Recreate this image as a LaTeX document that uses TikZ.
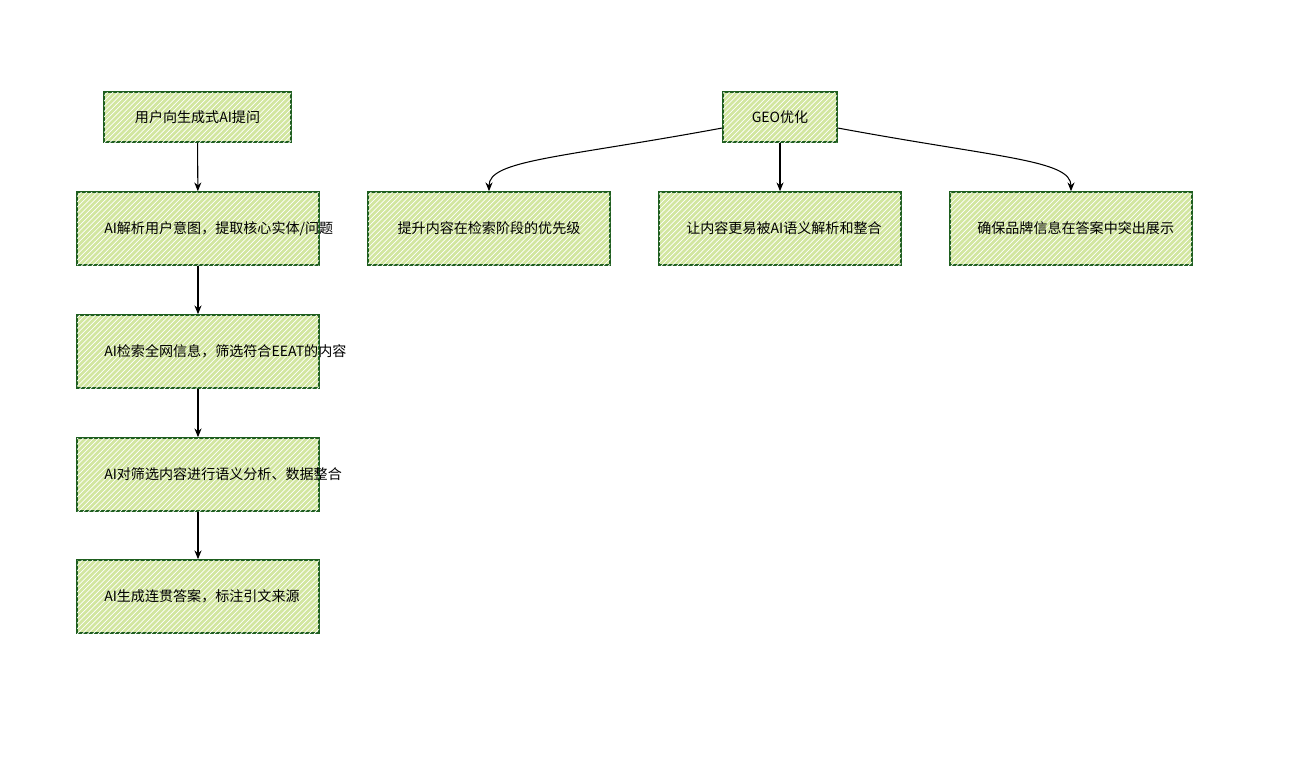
\documentclass[tikz,border=0pt]{standalone}
\usepackage{fontspec}
\setmainfont{Noto Sans CJK SC}
\usetikzlibrary{patterns,arrows.meta}
\definecolor{fillg}{HTML}{D2E6A0}
\definecolor{bord}{HTML}{1E5E1E}
\begin{document}
\begin{tikzpicture}[x=0.02cm,y=-0.02cm,
 box/.style={draw=bord,line width=0.9pt,fill=fillg,postaction={pattern=north east lines,pattern color=white},
   align=center,font=\fontsize{8pt}{11pt}\selectfont,text width=3.75cm,minimum width=242*0.02cm,minimum height=73*0.02cm,inner sep=2pt},
 sbox/.style={box,text width=3.4cm,minimum width=187*0.02cm,minimum height=50*0.02cm},
 arr/.style={-{Stealth[length=5pt,width=4pt]},line width=0.6pt,black}]
\useasboundingbox (0,0) rectangle (1314,769);
\node[sbox] (n1) at (197.5,117) {用户向生成式AI提问};
\node[box] (n2) at (198,228.5) {AI解析用户意图，提取核心实体/问题};
\node[box] (n3) at (198,351.5) {AI检索全网信息，筛选符合EEAT的内容};
\node[box] (n4) at (198,474.5) {AI对筛选内容进行语义分析、数据整合};
\node[box] (n5) at (198,596.5) {AI生成连贯答案，标注引文来源};
\node[sbox,text width=2cm,minimum width=114*0.02cm] (g) at (780,117) {GEO优化};
\node[box] (r1) at (489,228.5) {提升内容在检索阶段的优先级};
\node[box] (r2) at (780,228.5) {让内容更易被AI语义解析和整合};
\node[box] (r3) at (1071,228.5) {确保品牌信息在答案中突出展示};
\draw[arr] (n1) -- (n2);
\draw[arr] (n2) -- (n3);
\draw[arr] (n3) -- (n4);
\draw[arr] (n4) -- (n5);
\draw[arr] (g) -- (r2);
\draw[arr] ([yshift=-0.22cm]g.west) .. controls (560,158) and (489,160) .. (r1.north);
\draw[arr] ([yshift=-0.22cm]g.east) .. controls (1000,158) and (1071,160) .. (r3.north);
\end{tikzpicture}
\end{document}
